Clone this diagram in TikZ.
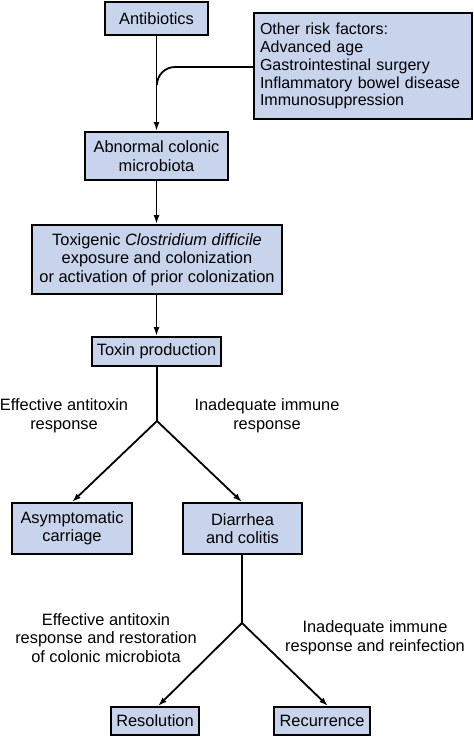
\documentclass[tikz,border=0pt]{standalone}
\usepackage{fontspec}
\setmainfont{Liberation Sans}
\usetikzlibrary{arrows.meta,calc}
\definecolor{boxblue}{RGB}{200,211,236}
\tikzset{
  box/.style={draw=black, fill=boxblue, line width=1.8pt, inner sep=0pt, align=center,
    font=\fontsize{16.4}{18.5}\selectfont},
  lbl/.style={inner sep=0pt, align=center, font=\fontsize{16.4}{18.5}\selectfont},
  conn/.style={line width=1.8pt},
  arr/.style={line width=1.8pt, -{Latex[length=9pt,width=6pt]}},
}
\begin{document}
\begin{tikzpicture}[x=1pt,y=-1pt]
\useasboundingbox (0,0) rectangle (474,737);
\node[box, minimum width=103pt, minimum height=33pt] (anti) at (156.5,18.5) {Antibiotics};
\node[box, minimum width=218pt, minimum height=106pt, align=left, text width=206pt,
  font=\fontsize{16}{17.9}\selectfont] (risk) at (363,66)
  {\hyphenpenalty=10000 Other risk factors:\\Advanced age\\Gastrointestinal surgery\\Inflammatory bowel disease\\Immunosuppression};
\node[box, minimum width=143pt, minimum height=48pt] (abn) at (156.5,156) {Abnormal colonic\\microbiota};
\node[box, minimum width=250pt, minimum height=69pt] (tox) at (157,259.5)
  {Toxigenic \textit{Clostridium difficile}\\exposure and colonization\\or activation of prior colonization};
\node[box, minimum width=129pt, minimum height=29pt] (prod) at (156.5,351.5) {Toxin production};
\node[box, minimum width=120pt, minimum height=51pt] (asym) at (72,528.5) {Asymptomatic\\carriage};
\node[box, minimum width=119pt, minimum height=51pt] (diar) at (242.5,528.5) {Diarrhea\\and colitis};
\node[box, minimum width=88pt, minimum height=28pt] (res) at (155,721) {Resolution};
\node[box, minimum width=96pt, minimum height=28pt] (rec) at (322,721) {Recurrence};

\node[lbl] (l1) at (64,416) {Effective antitoxin\\response};
\node[lbl] (l2) at (267,416) {Inadequate immune\\response};
\node[lbl] (l3) at (106,638) {Effective antitoxin\\response and restoration\\of colonic microbiota};
\node[lbl] (l4) at (375,638) {Inadequate immune\\response and reinfection};

\coordinate (join) at (157,86);
\coordinate (b1) at (157,421);
\coordinate (b2) at (242,623);

\draw[arr] (anti.south -| abn.north) -- (abn.north);
\draw[conn] (risk.west |- 0,67) -- (175,67) arc[start angle=90, end angle=180, radius=18pt] coordinate (join);
\draw[arr] (abn.south) -- (tox.north -| abn.south);
\draw[arr] (tox.south -| prod.north) -- (prod.north);
\draw[conn] (prod.south -| b1) -- (b1);
\draw[arr] (b1) -- (asym.north);
\draw[arr] (b1) -- ([xshift=-0.5pt]diar.north);
\draw[conn] ([xshift=-0.5pt]diar.south) -- (b2);
\draw[arr] (b2) -- ([xshift=3pt]res.north);
\draw[arr] (b2) -- ([xshift=6pt]rec.north);
\end{tikzpicture}
\end{document}
